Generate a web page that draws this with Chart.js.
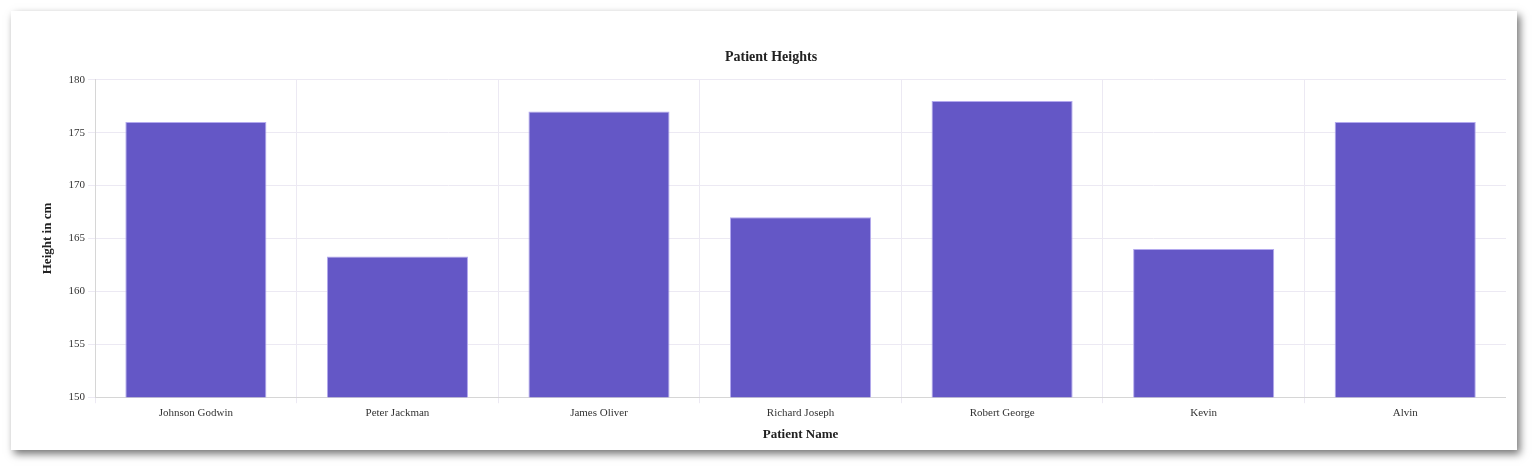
<!DOCTYPE html>
<html>
<head>
<meta charset="utf-8">
<script src="https://cdn.jsdelivr.net/npm/chart.js@4"></script>
<style>
    body { margin: 0; background: #fff; }
    .card {
        position: absolute;
        left: 11px; top: 11px;
        width: 1506px; height: 439px;
        background: #fff;
        box-shadow: 3px 4px 8px rgba(0, 0, 0, 0.55);
    }
    .chart-box {
        position: absolute;
        left: 25px; top: 28px;
        width: 1470px; height: 407px;
    }
</style>
</head>
<body>
<div class="card">
    <div class="chart-box"><canvas id="heightChart"></canvas></div>
</div>
<script>
const patients = ['Johnson Godwin', 'Peter Jackman', 'James Oliver', 'Richard Joseph', 'Robert George', 'Kevin', 'Alvin'];
const heights = [176, 163.3, 177, 167, 178, 164, 176];
const yMin = 150;
const yMax = 180;
const yStep = 5;

Chart.defaults.font.family = '"Liberation Serif", "Times New Roman", serif';

function displayHeightChart() {
    const ctx = document.getElementById('heightChart').getContext('2d');
    new Chart(ctx, {
        type: 'bar',
        data: {
            labels: patients,
            datasets: [
                {
                    label: 'Height',
                    data: heights,
                    backgroundColor: '#6457c6',
                    borderColor: '#b3a9ee',
                    borderWidth: 1,
                    barPercentage: 0.7,
                    categoryPercentage: 1
                }
            ]
        },
        options: {
            responsive: true,
            maintainAspectRatio: false,
            animation: false,
            plugins: {
                legend: { display: false },
                tooltip: { enabled: false },
                title: {
                    display: true,
                    text: 'Patient Heights',
                    color: '#222',
                    font: { size: 14, weight: 'bold' },
                    padding: { top: 10, bottom: 14 }
                }
            },
            scales: {
                x: {
                    grid: { color: '#ece9f3', tickLength: 6 },
                    border: { color: '#d6d6d6' },
                    ticks: { color: '#333', font: { size: 11 } },
                    title: {
                        display: true,
                        text: 'Patient Name',
                        color: '#222',
                        font: { size: 13, weight: 'bold' }
                    }
                },
                y: {
                    min: yMin,
                    max: yMax,
                    grid: { color: '#ece9f3', tickLength: 7 },
                    border: { color: '#d6d6d6' },
                    ticks: { stepSize: yStep, color: '#333', font: { size: 11 } },
                    title: {
                        display: true,
                        text: 'Height in cm',
                        color: '#222',
                        font: { size: 13, weight: 'bold' },
                        padding: { top: 4, bottom: 10 }
                    }
                }
            }
        }
    });
}

displayHeightChart();
</script>
</body>
</html>
